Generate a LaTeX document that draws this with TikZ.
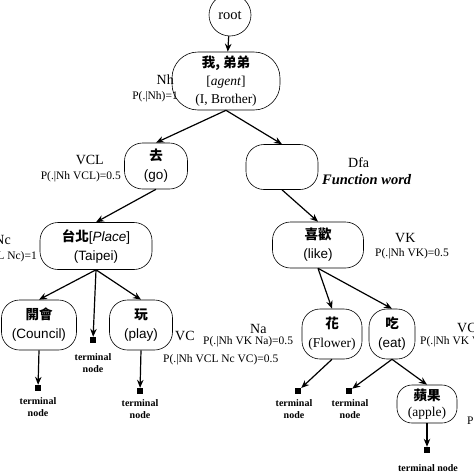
\documentclass[tikz,border=0pt]{standalone}
\usepackage{fontspec}
\setmainfont{Liberation Serif}
\newfontfamily\sans{Liberation Sans}
\newfontfamily\cjk{Noto Sans CJK TC}
\usetikzlibrary{arrows.meta}
\tikzset{
  arr/.style={-{Stealth[length=8pt,width=6.5pt]}, line width=1.2pt},
  box/.style={draw, line width=0.6pt, rounded corners=18pt, align=center, inner sep=0pt,
    font=\fontsize{13.5}{19}\selectfont},
  term/.style={fill=black, minimum size=6pt, inner sep=0pt},
  tlab/.style={font=\fontsize{10}{12}\selectfont\bfseries, align=center, inner sep=0pt},
  big/.style={font=\fontsize{14}{15}\selectfont, inner sep=0pt},
  prob/.style={font=\fontsize{11.5}{12}\selectfont, inner sep=0pt},
}
\newcommand{\zh}[1]{{\cjk\bfseries #1}}
\begin{document}
\begin{tikzpicture}[x=1pt,y=-1pt]
\useasboundingbox (0,0) rectangle (474,474);
\clip (0,0) rectangle (474,474);
% nodes
\coordinate (top) at (230,-30);
\node[draw, circle, line width=0.6pt, minimum size=42pt, inner sep=0pt, font=\fontsize{14.5}{15}\selectfont] (root) at (230,15) {root};
\node[box, rounded corners=26pt, minimum width=108pt, minimum height=58pt, font=\fontsize{13.5}{18}\selectfont] (agent) at (226,81)
  {\zh{我, 弟弟}\\{}[\textit{agent}]\\(I, Brother)};
\node[box, minimum width=63pt, minimum height=46pt] (go) at (156,166) {\zh{去}\\{\sans (go)}};
\node[box, minimum width=72pt, minimum height=45pt] (empty) at (282,167) {};
\node[box, minimum width=112pt, minimum height=47pt] (taipei) at (96,246) {\zh{台北}{\sans[\textit{Place}]}\\{\sans (Taipei)}};
\node[box, minimum width=91pt, minimum height=46pt] (like) at (318,245) {\zh{喜歡}\\{\sans (like)}};
\node[box, minimum width=75pt, minimum height=50pt] (council) at (39,325) {\zh{開會}\\{\sans (Council)}};
\node[box, minimum width=63pt, minimum height=50pt] (play) at (141,325) {\zh{玩}\\{\sans (play)}};
\node[box, minimum width=60pt, minimum height=50pt] (flower) at (332,334) {\zh{花}\\(Flower)};
\node[box, minimum width=46pt, minimum height=50pt] (eat) at (392,334) {\zh{吃}\\{\sans (eat)}};
\node[box, rounded corners=15pt, minimum width=60pt, minimum height=38pt, font=\fontsize{13.5}{16}\selectfont] (apple) at (427,404) {\zh{蘋果}\\(apple)};
% terminals
\node[term] (tA) at (93,340) {};
\node[term] (tB) at (38,388) {};
\node[term] (tC) at (140,391) {};
\node[term] (tD) at (298,391) {};
\node[term] (tE) at (349,391) {};
\node[term] (tF) at (427,450) {};
\node[tlab] (lA) at (93,363) {terminal\\node};
\node[tlab] (lB) at (38,407) {terminal\\node};
\node[tlab] (lC) at (140,409) {terminal\\node};
\node[tlab] (lD) at (294,409) {terminal\\node};
\node[tlab] (lE) at (350,409) {terminal\\node};
\node[tlab] (lF) at (428,468) {terminal node};
% edges
\draw[arr] (top) -- (root);
\draw[arr] (root) -- (agent);
\draw[arr] (agent.south) -- (go.north);
\draw[arr] (agent.south) -- (empty.north);
\draw[arr] (go.south) -- (taipei.north);
\draw[arr] (empty.south) -- (like.north);
\draw[arr] (taipei.south) -- (council.north);
\draw[arr] (taipei.south) -- (tA);
\draw[arr] (taipei.south) -- (play.north);
\draw[arr] (like.south) -- (flower.north);
\draw[arr] (like.south) -- (eat.north);
\draw[arr] (council.south) -- (tB);
\draw[arr] (play.south) -- (tC);
\draw[arr] (flower.south) -- (tD);
\draw[arr] (eat.south) -- (tE);
\draw[arr] (eat.south) -- (apple.north);
\draw[arr] (apple.south) -- (tF);
% labels
\node[big, anchor=east] (nh) at (174,80) {Nh};
\node[prob, anchor=east] (pnh) at (178,97) {P(.|Nh)=1};
\node[big, anchor=east] (vcl) at (104,160) {VCL};
\node[prob, anchor=east] (pvcl) at (121,177) {P(.|Nh VCL)=0.5};
\node[big, anchor=west] (dfa) at (348,163) {Dfa};
\node[big, anchor=west, font=\fontsize{14.5}{15}\selectfont\bfseries\itshape] (fw) at (322,180) {Function word};
\node[big, anchor=east] (nc) at (11,240) {Nc};
\node[prob, anchor=east] (pnc) at (37,257) {P(.|Nh VCL Nc)=1};
\node[big, anchor=west] (vk) at (395,238) {VK};
\node[prob, anchor=west] (pvk) at (375,254) {P(.|Nh VK)=0.5};
\node[big, anchor=west] (vc1) at (175,336) {VC};
\node[prob, anchor=west] (pna) at (203,342) {P(.|Nh VK Na)=0.5};
\node[big, anchor=west] (na) at (250,329) {Na};
\node[prob, anchor=west] (pvc1) at (163,360) {P(.|Nh VCL Nc VC)=0.5};
\node[big, anchor=west] (vc2) at (457,328) {VC};
\node[prob, anchor=west] (pvc2) at (420,342) {P(.|Nh VK VC)=0.5};
\node[prob, anchor=west] (pap) at (467,422) {P(.|Nh VK VC Na)=0.5};
\end{tikzpicture}
\end{document}
